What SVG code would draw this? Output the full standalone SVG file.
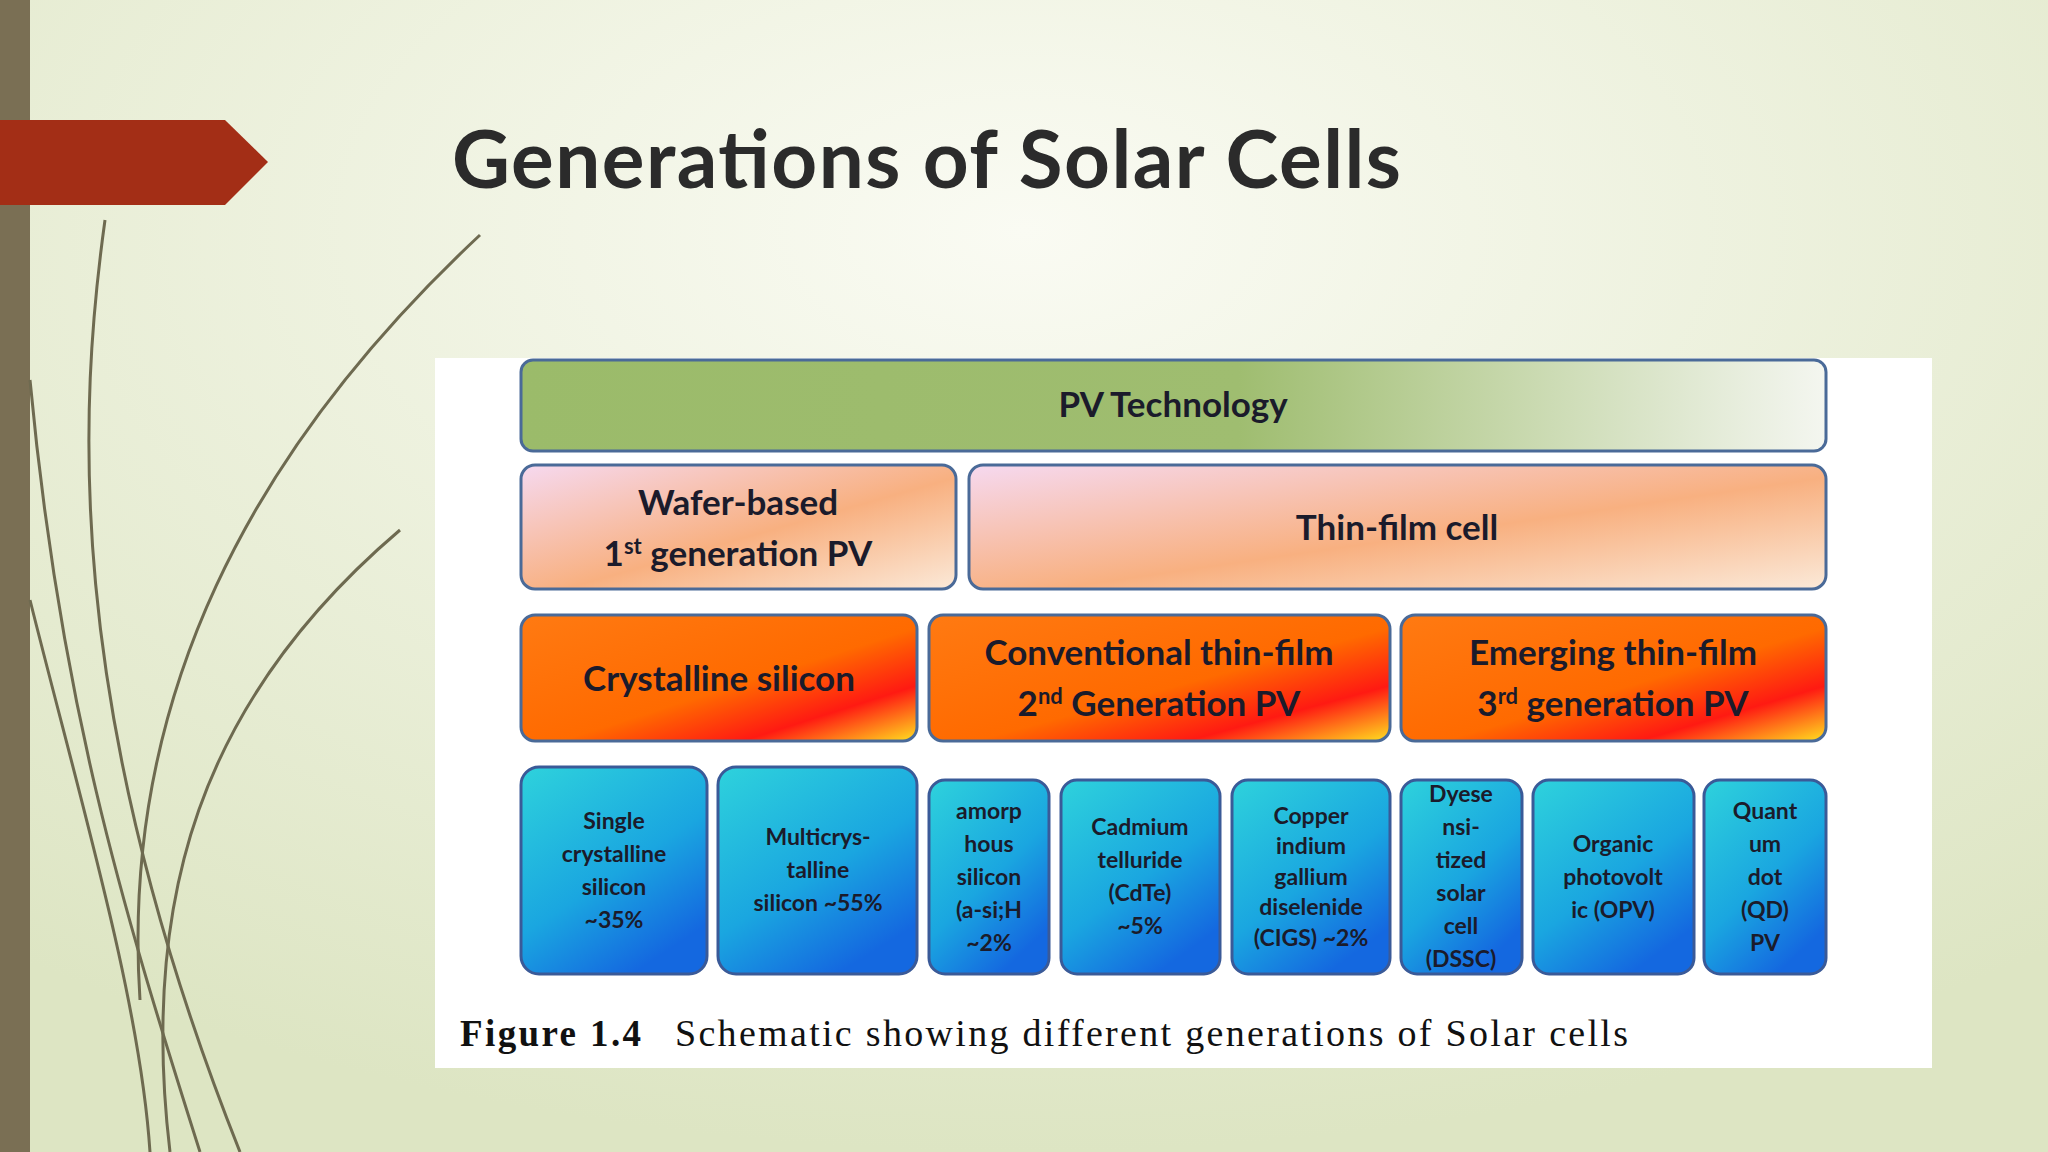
<svg xmlns="http://www.w3.org/2000/svg" width="2048" height="1152" viewBox="0 0 2048 1152">
<defs>
<radialGradient id="bg" cx="0.5" cy="0.2" r="0.8"><stop offset="0" stop-color="#fafbf3"/><stop offset="1" stop-color="#dde5c3"/></radialGradient>
<linearGradient id="g1" x1="0" y1="0" x2="1" y2="0"><stop offset="0" stop-color="#9bbb6a"/><stop offset="0.55" stop-color="#9fbd70"/><stop offset="1" stop-color="#f4f6f0"/></linearGradient>
<linearGradient id="g2" x1="0" y1="0" x2="1" y2="1"><stop offset="0" stop-color="#f6d9f0"/><stop offset="0.55" stop-color="#f8b080"/><stop offset="1" stop-color="#fbe9d8"/></linearGradient>
<linearGradient id="g3" x1="0" y1="0" x2="1" y2="1"><stop offset="0" stop-color="#ff7a12"/><stop offset="0.55" stop-color="#ff6a00"/><stop offset="0.78" stop-color="#ff1a12"/><stop offset="1" stop-color="#ffe020"/></linearGradient>
<linearGradient id="g4" x1="0" y1="0" x2="0.6" y2="1"><stop offset="0" stop-color="#2ed2dc"/><stop offset="0.6" stop-color="#1aa6e0"/><stop offset="1" stop-color="#1468e0"/></linearGradient>
<style>
.b1{fill:url(#g1);stroke:#4a6a98;stroke-width:3}
.b2{fill:url(#g2);stroke:#4a6a98;stroke-width:3}
.b3{fill:url(#g3);stroke:#4a6a98;stroke-width:3}
.b4{fill:url(#g4);stroke:#3a5a98;stroke-width:3}
.t{font-family:Lato,"Liberation Sans",sans-serif;font-weight:bold;fill:#1b1b2b;text-anchor:middle}
.L{font-size:35px}.S{font-size:23px}
.deco{fill:none;stroke:#6e6a50;stroke-width:3}
</style>
</defs>
<rect width="2048" height="1152" fill="url(#bg)"/>
<rect x="0" y="0" width="30" height="1152" fill="#7a6f54"/>
<path class="deco" d="M105 220 C80 400 60 700 240 1152"/>
<path class="deco" d="M30 380 C60 700 120 900 200 1152" stroke-width="2"/>
<path class="deco" d="M400 530 C200 700 140 900 170 1152"/>
<path class="deco" d="M480 235 C250 450 120 700 140 1000" stroke="#b8b89a" stroke-width="2"/>
<path class="deco" d="M30 600 C80 800 140 1000 150 1152" stroke="#a8a890" stroke-width="2"/>
<polygon points="0,120 225,120 268,162 225,205 0,205" fill="#a32e16"/>
<text x="452" y="188" font-family="Lato,'Liberation Sans',sans-serif" font-weight="bold" font-size="80" fill="#2b2b2b" textLength="949" lengthAdjust="spacing">Generations of Solar Cells</text>
<rect x="435" y="358" width="1497" height="710" fill="#ffffff"/>
<g id="pv"><rect class="b1" x="521" y="360" width="1305" height="91" rx="12"/><text class="t L" x="1173" y="417">PV Technology</text></g>
<g id="wafer"><rect class="b2" x="521" y="465" width="435" height="124" rx="14"/><text class="t L" x="738" y="515">Wafer-based</text><text class="t L" x="738" y="566">1<tspan font-size="22" dy="-12">st</tspan><tspan dy="12"> generation PV</tspan></text></g>
<g id="thin"><rect class="b2" x="969" y="465" width="857" height="124" rx="14"/><text class="t L" x="1397" y="540">Thin-film cell</text></g>
<g id="crys"><rect class="b3" x="521" y="615" width="396" height="126" rx="14"/><text class="t L" x="719" y="691">Crystalline silicon</text></g>
<g id="conv"><rect class="b3" x="929" y="615" width="461" height="126" rx="14"/><text class="t L" x="1159" y="665">Conventional thin-film</text><text class="t L" x="1159" y="716">2<tspan font-size="22" dy="-12">nd</tspan><tspan dy="12"> Generation PV</tspan></text></g>
<g id="emer"><rect class="b3" x="1401" y="615" width="425" height="126" rx="14"/><text class="t L" x="1613" y="665">Emerging thin-film</text><text class="t L" x="1613" y="716">3<tspan font-size="22" dy="-12">rd</tspan><tspan dy="12"> generation PV</tspan></text></g>
<g id="c1"><rect class="b4" x="521" y="767" width="186" height="207" rx="18"/><text class="t S" x="614" y="829">Single</text><text class="t S" x="614" y="862">crystalline</text><text class="t S" x="614" y="895">silicon</text><text class="t S" x="614" y="928">~35%</text></g>
<g id="c2"><rect class="b4" x="718" y="767" width="199" height="207" rx="18"/><text class="t S" x="818" y="845">Multicrys-</text><text class="t S" x="818" y="878">talline</text><text class="t S" x="818" y="911">silicon  ~55%</text></g>
<g id="c3"><rect class="b4" x="929" y="780" width="120" height="194" rx="16"/><text class="t S" x="989" y="819">amorp</text><text class="t S" x="989" y="852">hous</text><text class="t S" x="989" y="885">silicon</text><text class="t S" x="989" y="918">(a-si;H</text><text class="t S" x="989" y="951">~2%</text></g>
<g id="c4"><rect class="b4" x="1061" y="780" width="159" height="194" rx="16"/><text class="t S" x="1140" y="835">Cadmium</text><text class="t S" x="1140" y="868">telluride</text><text class="t S" x="1140" y="901">(CdTe)</text><text class="t S" x="1140" y="934">~5%</text></g>
<g id="c5"><rect class="b4" x="1232" y="780" width="158" height="194" rx="16"/><text class="t S" x="1311" y="824">Copper</text><text class="t S" x="1311" y="854">indium</text><text class="t S" x="1311" y="885">gallium</text><text class="t S" x="1311" y="915">diselenide</text><text class="t S" x="1311" y="946">(CIGS) ~2%</text></g>
<g id="c6"><rect class="b4" x="1401" y="780" width="121" height="194" rx="16"/><text class="t S" x="1461" y="802">Dyese</text><text class="t S" x="1461" y="835">nsi-</text><text class="t S" x="1461" y="868">tized</text><text class="t S" x="1461" y="901">solar</text><text class="t S" x="1461" y="934">cell</text><text class="t S" x="1461" y="967">(DSSC)</text></g>
<g id="c7"><rect class="b4" x="1533" y="780" width="161" height="194" rx="16"/><text class="t S" x="1613" y="852">Organic</text><text class="t S" x="1613" y="885">photovolt</text><text class="t S" x="1613" y="918">ic (OPV)</text></g>
<g id="c8"><rect class="b4" x="1704" y="780" width="122" height="194" rx="16"/><text class="t S" x="1765" y="819">Quant</text><text class="t S" x="1765" y="852">um</text><text class="t S" x="1765" y="885">dot</text><text class="t S" x="1765" y="918">(QD)</text><text class="t S" x="1765" y="951">PV</text></g>
<g id="conn"/>
<text x="460" y="1046" font-family="'Liberation Serif',serif" font-size="37" fill="#111" font-weight="bold" textLength="181" lengthAdjust="spacing">Figure 1.4</text>
<text x="675" y="1046" font-family="'Liberation Serif',serif" font-size="38" fill="#111" textLength="953" lengthAdjust="spacing">Schematic showing  different generations of  Solar cells</text>
</svg>
